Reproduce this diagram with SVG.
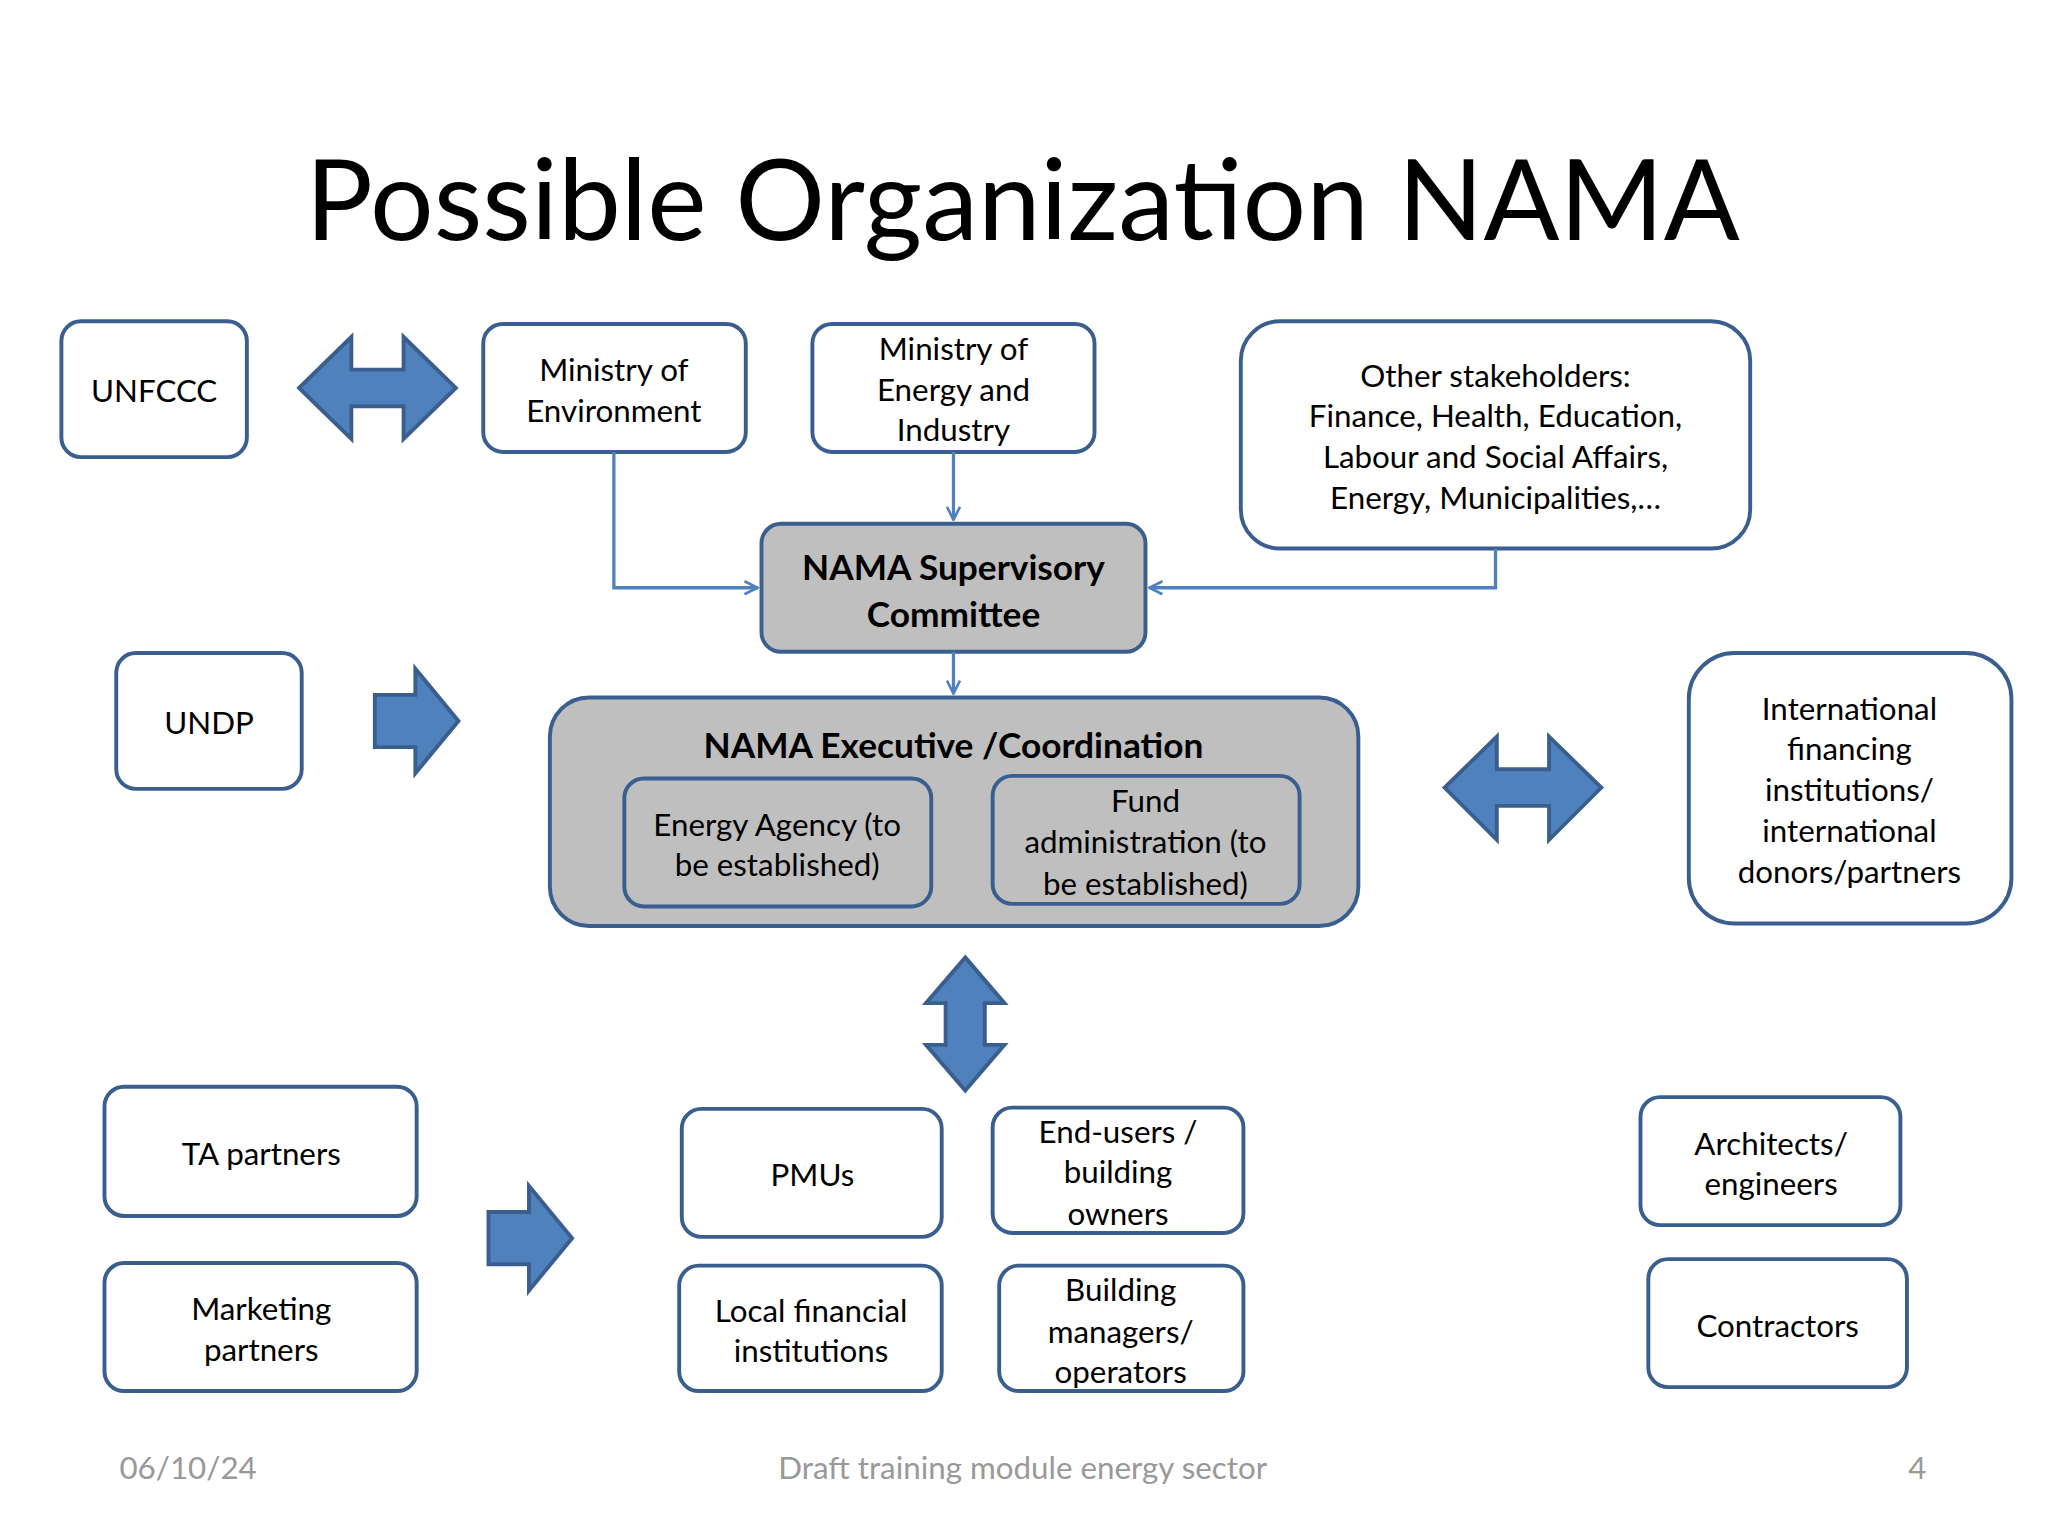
<svg xmlns="http://www.w3.org/2000/svg" width="2048" height="1536" viewBox="0 0 2048 1536">
<style>
text{font-family:Lato,"Open Sans",sans-serif;fill:#000;text-anchor:middle}
.b{fill:#fff;stroke:#3a5f8f;stroke-width:3}
.g{fill:#bfbfbf;stroke:#3a5f8f;stroke-width:3}
.t{font-size:24px}
.bt{font-size:27px;font-weight:bold}
.ar{fill:#4f81bd;stroke:#3a5f8f;stroke-width:3;stroke-linejoin:miter}
.c{fill:none;stroke:#4f81bd;stroke-width:2.5}
.f{font-size:24px;fill:#999}
</style>
<defs><marker id="m" viewBox="0 0 12 12" refX="11" refY="6" markerWidth="12" markerHeight="12" markerUnits="userSpaceOnUse" orient="auto"><path d="M1,1 L11,6 L1,11" fill="none" stroke="#4f81bd" stroke-width="2"/></marker></defs>
<rect width="2048" height="1536" fill="#fff"/>
<g transform="scale(1.30612)">
<text x="783" y="184" style="font-size:86px">Possible Organization NAMA</text>
<g id="unfccc"><rect class="b" x="47" y="246" width="142" height="104" rx="15"/><text class="t" x="118" y="308">UNFCCC</text></g>
<g id="moe"><rect class="b" x="370" y="248" width="201" height="98" rx="15"/><text class="t" x="470" y="292">Ministry of</text><text class="t" x="470" y="323">Environment</text></g>
<g id="moei"><rect class="b" x="622" y="248" width="216" height="98" rx="15"/><text class="t" x="730" y="276">Ministry of</text><text class="t" x="730" y="307">Energy and</text><text class="t" x="730" y="338">Industry</text></g>
<g id="other"><rect class="b" x="950" y="246" width="390" height="174" rx="30"/><text class="t" x="1145" y="296">Other stakeholders:</text><text class="t" x="1145" y="327">Finance, Health, Education,</text><text class="t" x="1145" y="358">Labour and Social Affairs,</text><text class="t" x="1145" y="390">Energy, Municipalities,…</text></g>
<g id="sup"><rect class="g" x="583" y="401" width="294" height="98" rx="15"/><text class="bt" x="730" y="444">NAMA Supervisory</text><text class="bt" x="730" y="480">Committee</text></g>
<g id="exec"><rect class="g" x="421" y="534" width="619" height="175" rx="30"/><text class="bt" x="730" y="580">NAMA Executive /Coordination</text>
<rect class="g" x="478" y="596" width="235" height="98" rx="15"/><text class="t" x="595" y="640">Energy Agency (to</text><text class="t" x="595" y="671">be established)</text>
<rect class="g" x="760" y="594" width="235" height="98" rx="15"/><text class="t" x="877" y="622">Fund</text><text class="t" x="877" y="653">administration (to</text><text class="t" x="877" y="685">be established)</text></g>
<g id="undp"><rect class="b" x="89" y="500" width="142" height="104" rx="15"/><text class="t" x="160" y="562">UNDP</text></g>
<g id="intl"><rect class="b" x="1293" y="500" width="247" height="207" rx="35"/><text class="t" x="1416" y="551">International</text><text class="t" x="1416" y="582">financing</text><text class="t" x="1416" y="613">institutions/</text><text class="t" x="1416" y="645">international</text><text class="t" x="1416" y="676">donors/partners</text></g>
<g id="ta"><rect class="b" x="80" y="832" width="239" height="99" rx="15"/><text class="t" x="200" y="892">TA partners</text></g>
<g id="mkt"><rect class="b" x="80" y="967" width="239" height="98" rx="15"/><text class="t" x="200" y="1011">Marketing</text><text class="t" x="200" y="1042">partners</text></g>
<g id="pmu"><rect class="b" x="522" y="849" width="199" height="98" rx="15"/><text class="t" x="622" y="908">PMUs</text></g>
<g id="end"><rect class="b" x="760" y="848" width="192" height="96" rx="15"/><text class="t" x="856" y="875">End-users /</text><text class="t" x="856" y="906">building</text><text class="t" x="856" y="938">owners</text></g>
<g id="lfi"><rect class="b" x="520" y="969" width="201" height="96" rx="15"/><text class="t" x="621" y="1012">Local financial</text><text class="t" x="621" y="1043">institutions</text></g>
<g id="bm"><rect class="b" x="765" y="969" width="187" height="96" rx="15"/><text class="t" x="858" y="996">Building</text><text class="t" x="858" y="1028">managers/</text><text class="t" x="858" y="1059">operators</text></g>
<g id="arch"><rect class="b" x="1256" y="840" width="199" height="98" rx="15"/><text class="t" x="1356" y="884">Architects/</text><text class="t" x="1356" y="915">engineers</text></g>
<g id="contr"><rect class="b" x="1262" y="964" width="198" height="98" rx="15"/><text class="t" x="1361" y="1024">Contractors</text></g>
<g id="connectors">
<path class="c" d="M470,346 V450 H580" marker-end="url(#m)"/>
<path class="c" d="M730,346 V398" marker-end="url(#m)"/>
<path class="c" d="M1145,420 V450 H880" marker-end="url(#m)"/>
<path class="c" d="M730,499 V531" marker-end="url(#m)"/>
<path class="ar" d="M229,297 L269,258 V283 H309 V258 L349,297 L309,336 V311 H269 V336 Z"/>
<path class="ar" d="M1106,603 L1146,564 V589 H1186 V564 L1226,603 L1186,643 V617 H1146 V643 Z"/>
<path class="ar" d="M739,733 L769,768 H754 V800 H769 L739,835 L709,800 H724 V768 H709 Z"/>
<path class="ar" d="M287,532 H318 V512 L351,552 L318,592 V572 H287 Z"/>
<path class="ar" d="M374,928 H405 V908 L438,948 L405,988 V968 H374 Z"/>
</g>
<text class="f" x="144" y="1132">06/10/24</text>
<text class="f" x="783" y="1132">Draft training module energy sector</text>
<text class="f" x="1468" y="1132">4</text>
</g>
</svg>
